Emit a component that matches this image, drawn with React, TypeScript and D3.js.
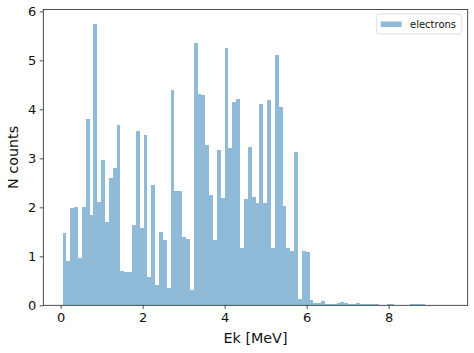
import { useEffect, useRef } from 'react';
import * as d3 from 'd3';

// histogram bins (MeV)
const binStart = 0.047;
const binWidth = 0.0941;

// counts per bin
const counts = [
  1.47, 0.91, 1.99, 2.01, 0.96, 2.01, 3.81, 1.84, 5.75, 2.1,
  2.97, 1.7, 2.6, 2.81, 3.69, 0.7, 0.67, 0.68, 1.64, 3.56,
  1.58, 3.47, 0.57, 2.46, 0.41, 1.5, 1.34, 0.36, 4.39, 2.34,
  2.34, 1.4, 1.35, 0.31, 5.35, 4.31, 4.3, 3.28, 2.26, 1.33,
  3.16, 2.19, 5.25, 3.22, 4.15, 4.22, 1.16, 2.17, 3.23, 2.21,
  2.09, 4.1, 2.09, 4.19, 1.16, 5.11, 4.05, 2.03, 1.16, 1.11,
  3.13, 0.12, 1.1, 1.09, 0.1, 0.05, 0.04, 0.08, 0.03, 0.03,
  0.03, 0.04, 0.07, 0.05, 0.02, 0.03, 0.05, 0.02, 0.02, 0.02,
  0.02, 0.02, 0.01, 0, 0.03, 0.02, 0, 0.01, 0, 0,
  0.02, 0.03, 0.03, 0.02, 0, 0.01, 0.01, 0.01, 0.01, 0,
];

const xTicks = [0, 2, 4, 6, 8];
const yTicks = [0, 1, 2, 3, 4, 5, 6];
const seriesName = 'electrons';
const xLabel = 'Ek [MeV]';
const yLabel = 'N counts';

const W = 474;
const H = 353;
const FONT = '"DejaVu Sans", sans-serif';

export default function App() {
  const svgRef = useRef<SVGSVGElement | null>(null);

  useEffect(() => {
    if (!svgRef.current) return;
    const svg = d3.select(svgRef.current);
    svg.selectAll('*').remove();

    const margin = { top: 9.5, right: 6.3, bottom: 47.7, left: 43.3 };
    const x0 = binStart;
    const x1 = binStart + binWidth * counts.length;
    const xPad = (x1 - x0) * 0.05;
    const yMax = (d3.max(counts) ?? 1) * 1.05;

    const xScale = d3.scaleLinear().domain([x0 - xPad, x1 + xPad]).range([margin.left, W - margin.right]);
    const yScale = d3.scaleLinear().domain([0, yMax]).range([H - margin.bottom, margin.top]);

    const bins = counts.map((c, i) => ({ lo: binStart + i * binWidth, hi: binStart + (i + 1) * binWidth, c }));

    // Bars
    svg.append('g')
      .selectAll('rect')
      .data(bins)
      .enter()
      .append('rect')
      .attr('x', (d) => xScale(d.lo))
      .attr('width', (d) => xScale(d.hi) - xScale(d.lo))
      .attr('y', (d) => yScale(d.c))
      .attr('height', (d) => yScale(0) - yScale(d.c))
      .attr('fill', '#1f77b4')
      .attr('fill-opacity', 0.5)
      .attr('shape-rendering', 'crispEdges');

    // Axes
    const xAxis = svg.append('g')
      .attr('transform', `translate(0,${yScale(0)})`)
      .call(d3.axisBottom(xScale).tickValues(xTicks).tickSize(3.6).tickPadding(3.5).tickFormat((d) => String(d)));
    const yAxis = svg.append('g')
      .attr('transform', `translate(${margin.left},0)`)
      .call(d3.axisLeft(yScale).tickValues(yTicks).tickSize(3.6).tickPadding(3.5).tickFormat((d) => String(d)));

    [xAxis, yAxis].forEach((a) => {
      a.select('.domain').remove();
      a.selectAll('line').attr('stroke', '#222').attr('stroke-width', 0.8);
      a.selectAll('text').style('font-family', FONT).style('font-size', '13px').style('fill', '#111');
    });

    // Frame
    svg.append('rect')
      .attr('x', margin.left)
      .attr('y', margin.top)
      .attr('width', W - margin.right - margin.left)
      .attr('height', yScale(0) - margin.top)
      .attr('fill', 'none')
      .attr('stroke', '#222')
      .attr('stroke-width', 0.8);

    // Axis labels
    svg.append('text')
      .attr('x', (margin.left + W - margin.right) / 2)
      .attr('y', 343)
      .attr('text-anchor', 'middle')
      .style('font-family', FONT)
      .style('font-size', '14.3px')
      .style('fill', '#111')
      .text(xLabel);

    svg.append('text')
      .attr('transform', `translate(18,${(margin.top + yScale(0)) / 2}) rotate(-90)`)
      .attr('text-anchor', 'middle')
      .style('font-family', FONT)
      .style('font-size', '14.3px')
      .style('fill', '#111')
      .text(yLabel);

    // Legend
    const lg = svg.append('g').attr('transform', 'translate(376.7,14)');
    lg.append('rect')
      .attr('width', 85)
      .attr('height', 20)
      .attr('rx', 2)
      .attr('fill', '#fff')
      .attr('fill-opacity', 0.8)
      .attr('stroke', '#d6d6d6')
      .attr('stroke-width', 0.8);
    lg.append('rect')
      .attr('x', 4)
      .attr('y', 7.5)
      .attr('width', 21)
      .attr('height', 5.5)
      .attr('fill', '#1f77b4')
      .attr('fill-opacity', 0.5);
    lg.append('text')
      .attr('x', 33.3)
      .attr('y', 14.2)
      .style('font-family', FONT)
      .style('font-size', '10px')
      .style('fill', '#111')
      .text(seriesName);
  }, []);

  return (
    <div style={{ width: W, height: H, overflow: 'hidden' }}>
      <style>{'body{margin:0;background:#fff}'}</style>
      <svg ref={svgRef} width={W} height={H} viewBox={`0 0 ${W} ${H}`} style={{ display: 'block' }} />
    </div>
  );
}
